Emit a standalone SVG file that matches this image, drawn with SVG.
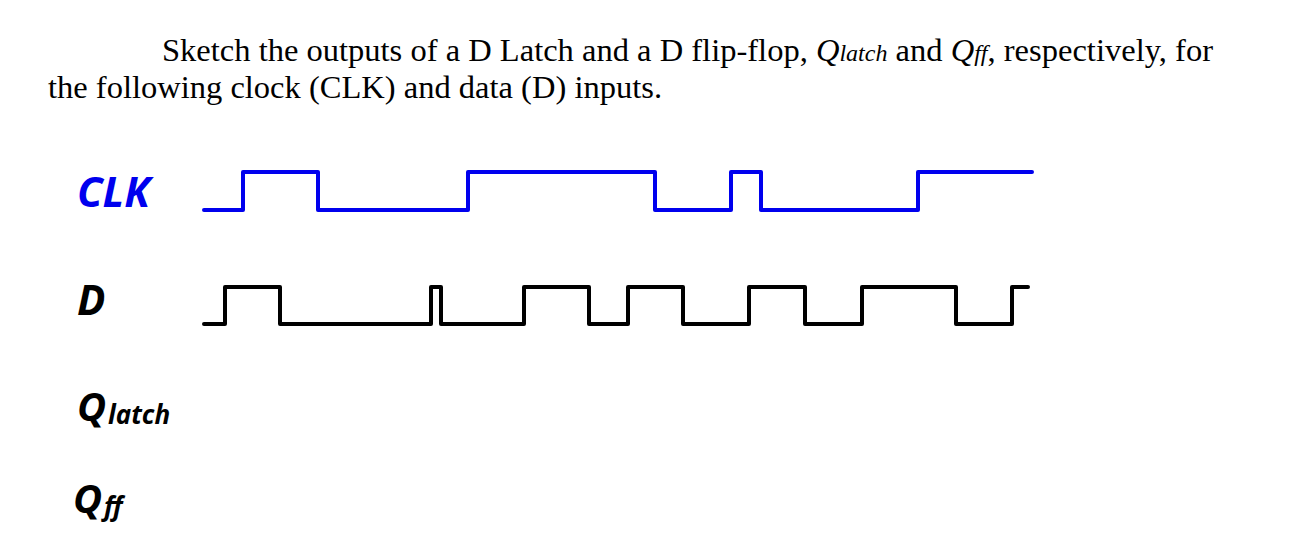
<svg xmlns="http://www.w3.org/2000/svg" width="1315" height="557" viewBox="0 0 1315 557">
<style>
.t{font-family:"Liberation Serif","Times New Roman",serif;font-size:32.5px;fill:#000}
.ti{font-style:italic}
.lb{font-family:"Open Sans","Liberation Sans",sans-serif;font-weight:bold;font-style:italic;fill:#000}
.w{fill:none;stroke-width:4;stroke-linejoin:round;stroke-linecap:round}
</style>
<rect width="1315" height="557" fill="#fff"/>
<g id="title">
<text class="t" x="162" y="61" textLength="1051" lengthAdjust="spacing">Sketch the outputs of a D Latch and a D flip-flop, <tspan class="ti">Q</tspan><tspan class="ti" font-size="24">latch</tspan> and <tspan class="ti">Q</tspan><tspan class="ti" font-size="24">ff</tspan>, respectively, for</text>
<text class="t" x="48" y="98" textLength="614" lengthAdjust="spacing">the following clock (CLK) and data (D) inputs.</text>
</g>
<g id="label-clk"><text class="lb" x="77" y="207" font-size="42" style="fill:#0000ee" textLength="73" lengthAdjust="spacingAndGlyphs">CLK</text></g>
<g id="label-d"><text class="lb" x="77" y="315" font-size="42">D</text></g>
<g id="label-qlatch"><text class="lb" x="77" y="421" font-size="40">Q<tspan x="108" y="424" font-size="26">latch</tspan></text></g>
<g id="label-qff"><text class="lb" x="73" y="513" font-size="40">Q<tspan x="104" y="516" font-size="26">ff</tspan></text></g>
<g id="waveforms">
<path id="wave-clk" class="w" stroke="#0000ee" d="M204,210 H243 V172 H318 V210 H468 V172 H655 V210 H731 V172 H761 V210 H918 V172 H1032"/>
<path id="wave-d" class="w" stroke="#000" d="M204,324 H225 V287 H280 V324 H431 V287 H441 V324 H524 V287 H589 V324 H628 V287 H683 V324 H749 V287 H805 V324 H862 V287 H956 V324 H1012 V287 H1028"/>
</g>
</svg>
